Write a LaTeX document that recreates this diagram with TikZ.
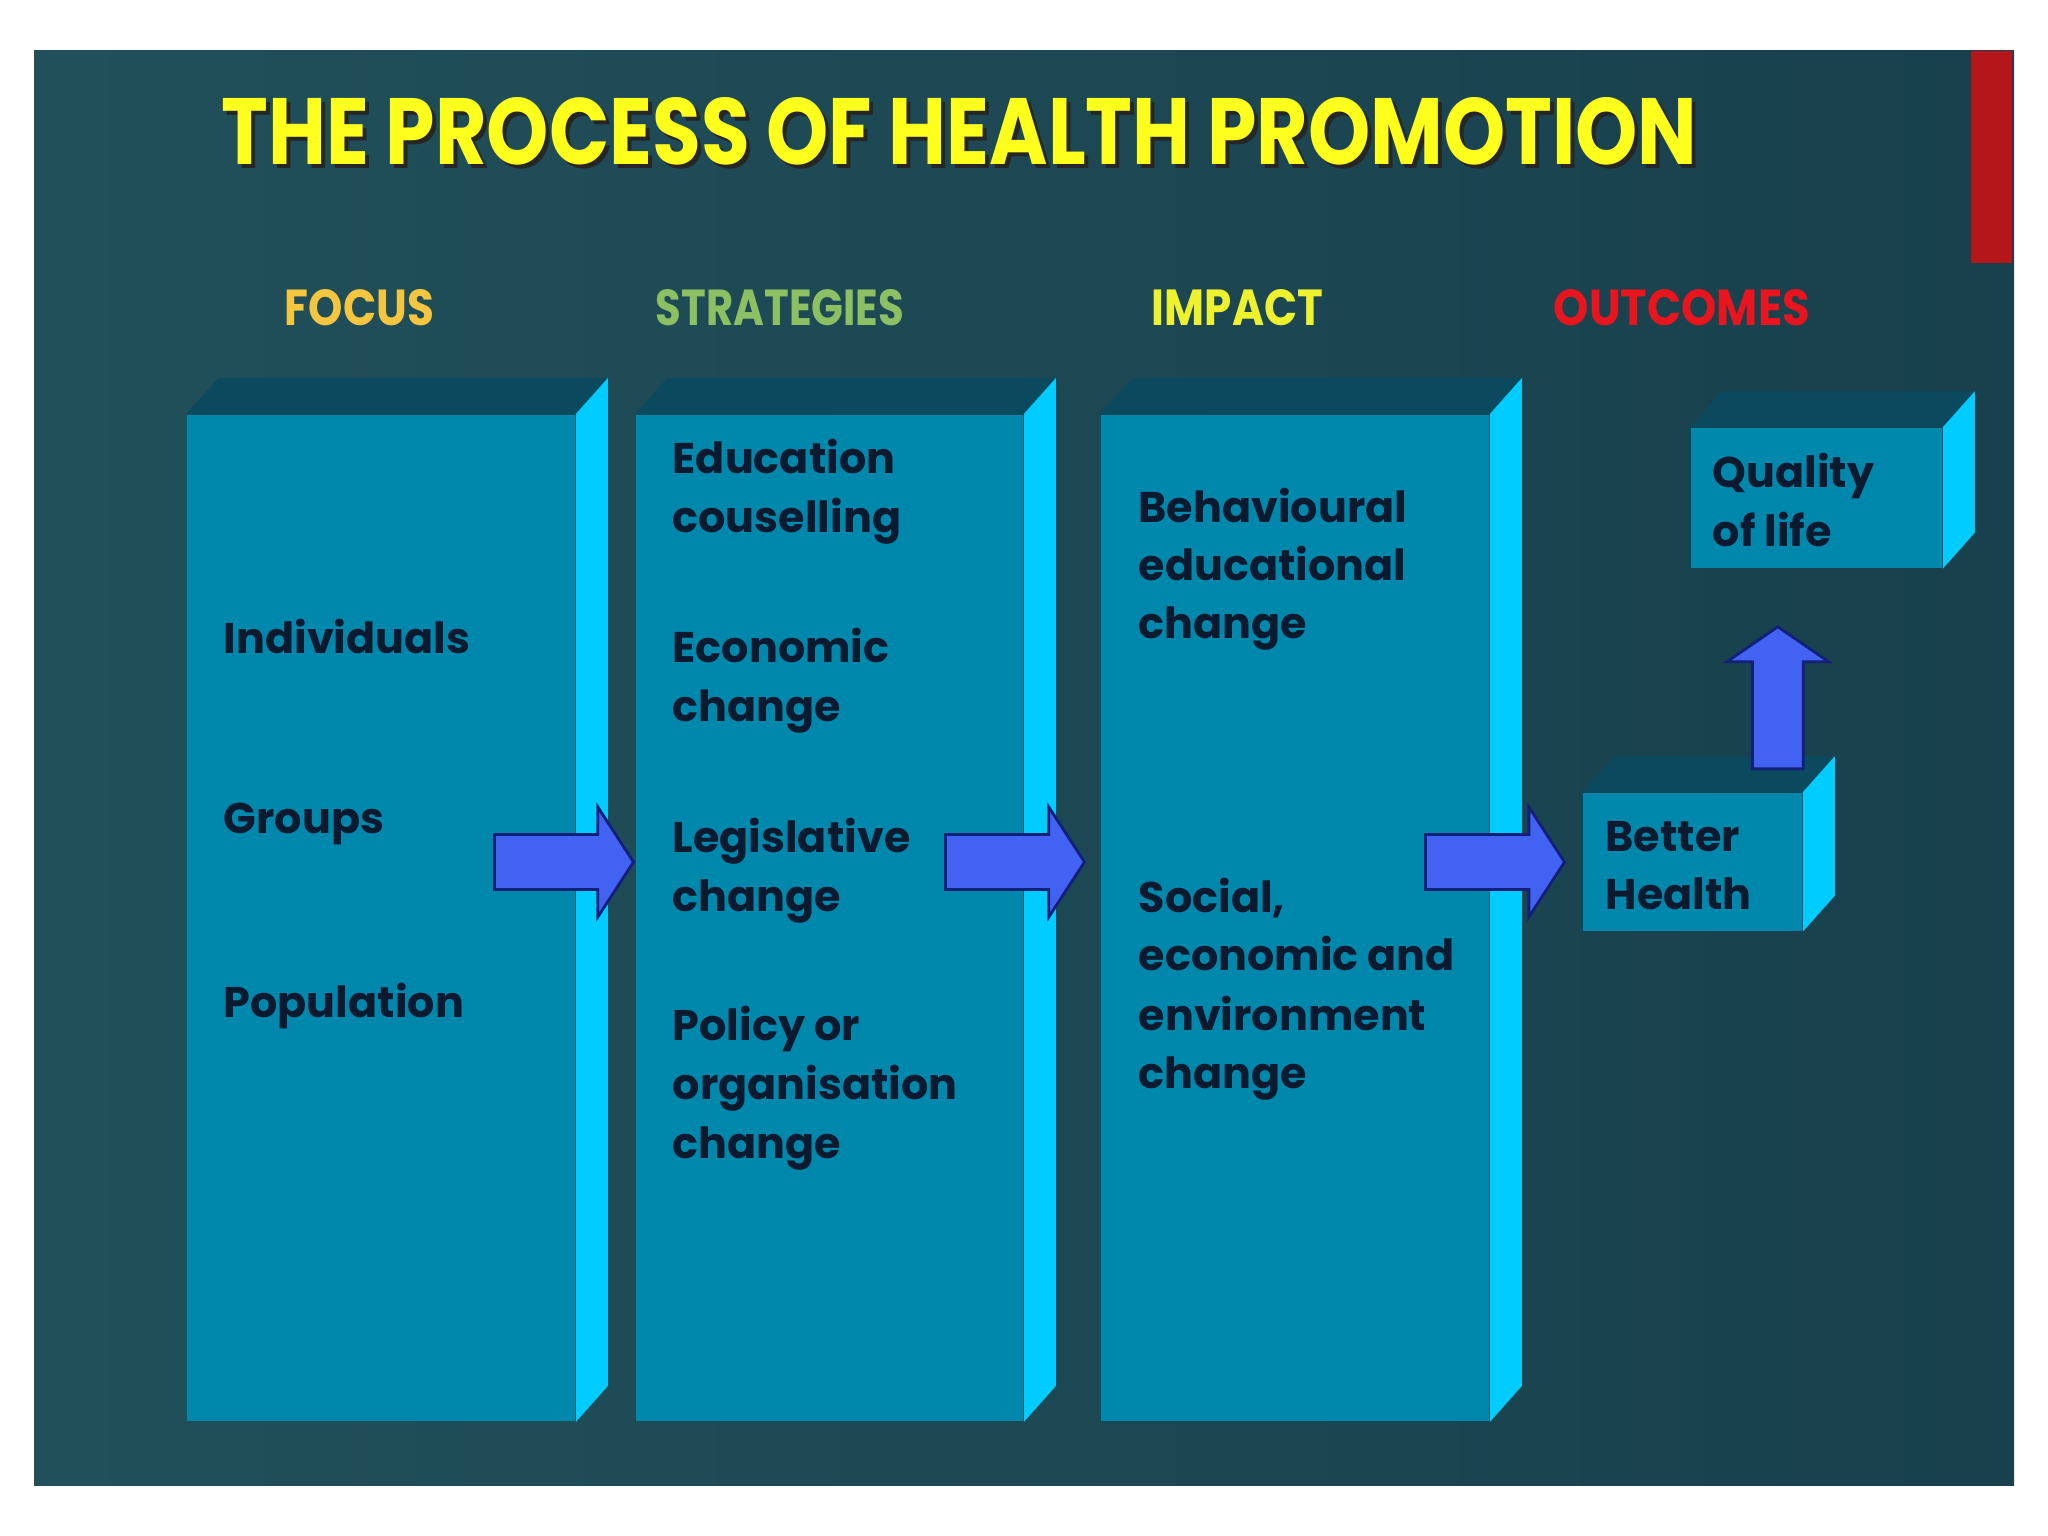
\documentclass[tikz,border=0pt]{standalone}
\usepackage{fontspec}
\setmainfont{Poppins}
\usetikzlibrary{shapes.arrows,calc}
\definecolor{bgL}{HTML}{21505A}
\definecolor{bgM}{HTML}{356763}
\definecolor{bgR}{HTML}{18404D}
\definecolor{redbar}{HTML}{B5161A}
\definecolor{titlec}{HTML}{FFFF1E}
\definecolor{focusc}{HTML}{F4C640}
\definecolor{stratc}{HTML}{8CC063}
\definecolor{impactc}{HTML}{EEF22E}
\definecolor{outc}{HTML}{E8141E}
\definecolor{frontc}{HTML}{0088AC}
\definecolor{topc}{HTML}{0B4A5E}
\definecolor{sidec}{HTML}{00CCFF}
\definecolor{arrowfill}{HTML}{4262F2}
\definecolor{arrowline}{HTML}{12207A}
\definecolor{textc}{HTML}{0C1A30}
\newcommand\cubefaces[1]{%
  \fill[topc] (#1.north west) -- ++(32,-36) -- ([shift={(32,-36)}]#1.north east) -- (#1.north east) -- cycle;
  \fill[sidec] (#1.north east) -- ++(32,-36) -- ([shift={(32,-36)}]#1.south east) -- (#1.south east) -- cycle;}
\begin{document}
\begin{tikzpicture}[x=0.01cm,y=-0.01cm,
  front/.style={fill=frontc, inner sep=0, draw=none},
  hdr/.style={inner sep=0, font=\bfseries},
  txt/.style={anchor=base west, inner sep=0, text=textc, font=\bfseries\fontsize{12.2}{15}\selectfont},
  bigarrow/.style={single arrow, draw=arrowline, fill=arrowfill, line width=0.8pt, inner xsep=0, inner ysep=0.26cm,
     single arrow head extend=0.275cm, single arrow tip angle=114, minimum height=1.39cm}]
\useasboundingbox[fill=white] (0,0) rectangle (2048,1536);
\shade[left color=bgL, middle color=bgM, right color=bgR] (34,50) rectangle (2014,1485);
\fill[redbar] (1971,51) rectangle (2012,263);
% title
\node[hdr, text=black!85] (tshadow) at (963.5,135.5) {\resizebox{14.75cm}{0.67cm}{THE PROCESS OF HEALTH PROMOTION}};
\node[hdr, text=titlec] (title) at (959.5,131.5) {\resizebox{14.75cm}{0.67cm}{THE PROCESS OF HEALTH PROMOTION}};
% headers
\node[hdr, text=focusc] (hfocus) at (359.5,307.5) {\resizebox{1.49cm}{0.36cm}{FOCUS}};
\node[hdr, text=stratc] (hstrat) at (780,307.5) {\resizebox{2.48cm}{0.36cm}{STRATEGIES}};
\node[hdr, text=impactc] (himpact) at (1237.5,307.5) {\resizebox{1.71cm}{0.36cm}{IMPACT}};
\node[hdr, text=outc] (hout) at (1682,307.5) {\resizebox{2.56cm}{0.36cm}{OUTCOMES}};
% blocks
\node[front, minimum width=3.88cm, minimum height=10.06cm] (b1) at (381,918) {};
\node[front, minimum width=3.87cm, minimum height=10.06cm] (b2) at (829.5,918) {};
\node[front, minimum width=3.88cm, minimum height=10.06cm] (b3) at (1295,918) {};
\node[front, minimum width=2.19cm, minimum height=1.38cm] (bh) at (1692.5,862) {};
\node[front, minimum width=2.51cm, minimum height=1.40cm] (ql) at (1816.5,498) {};
\cubefaces{b1}
\cubefaces{b2}
\cubefaces{b3}
\cubefaces{bh}
\cubefaces{ql}
% texts
\node[txt] (t11) at (223,653) {Individuals};
\node[txt] (t12) at (223,833) {Groups};
\node[txt] (t13) at (223,1017) {Population};
\node[txt] (t21) at (672,473) {Education};
\node[txt] (t22) at (672,532) {couselling};
\node[txt] (t23) at (672,662) {Economic};
\node[txt] (t24) at (672,721) {change};
\node[txt] (t25) at (672,852) {Legislative};
\node[txt] (t26) at (672,911) {change};
\node[txt] (t27) at (672,1040) {Policy or};
\node[txt] (t28) at (672,1099) {organisation};
\node[txt] (t29) at (672,1158) {change};
\node[txt] (t31) at (1138,522) {Behavioural};
\node[txt] (t32) at (1138,580) {educational};
\node[txt] (t33) at (1138,638) {change};
\node[txt] (t34) at (1138,912) {Social,};
\node[txt] (t35) at (1138,970) {economic and};
\node[txt] (t36) at (1138,1030) {environment};
\node[txt] (t37) at (1138,1088) {change};
\node[txt] (t41) at (1605,851) {Better};
\node[txt] (t42) at (1605,909) {Health};
\node[txt] (t51) at (1712,487) {Quality};
\node[txt] (t52) at (1712,546) {of life};
% arrows
\node[bigarrow, anchor=tip] (a1) at (b2.west |- 0,862) {};
\node[bigarrow, anchor=tip, xshift=-0.14cm] (a2) at (b3.west |- 0,862) {};
\node[bigarrow, anchor=tip, xshift=-0.16cm] (a3) at (bh.west |- 0,862) {};
\node[bigarrow, shape border rotate=90, anchor=tail, minimum height=1.42cm, inner sep=0.24cm,
  single arrow head extend=0.255cm, single arrow tip angle=111] (a4) at ($(bh.north east)+(-25,-22)$) {};
\end{tikzpicture}
\end{document}
